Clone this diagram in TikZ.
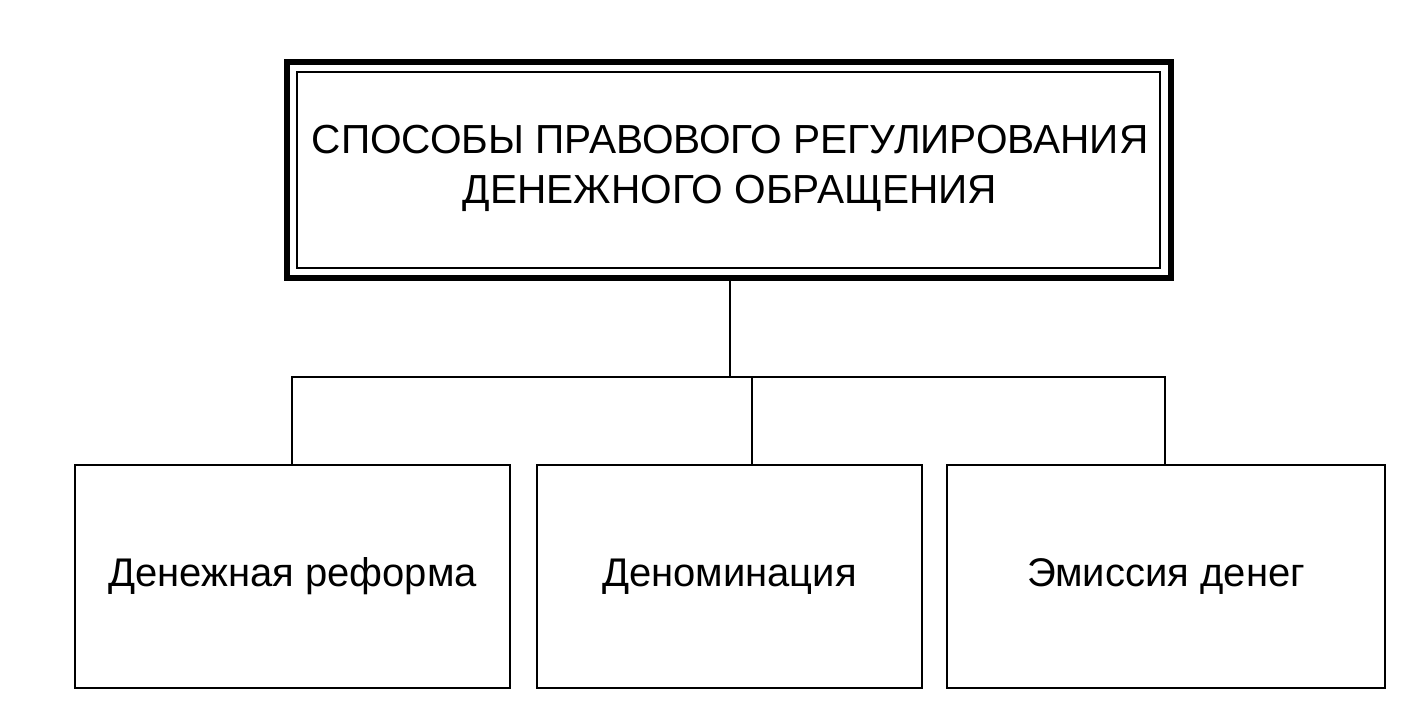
\documentclass[tikz,border=0pt]{standalone}
\usepackage{fontspec}
\setmainfont{Liberation Sans}
\begin{document}
\begin{tikzpicture}[x=0.5pt,y=-0.5pt,
  leaf/.style={draw,line width=1.2pt,minimum width=217.5pt,minimum height=111.5pt,font=\fontsize{20}{24}\selectfont,inner sep=0pt},
  conn/.style={line width=1pt}]
\useasboundingbox (0,0) rectangle (1413,725);
\node[draw,line width=3pt,minimum width=442pt,minimum height=108pt,inner sep=0pt] (top) at (728.5,170) {};
\node[draw,line width=1pt,minimum width=431.5pt,minimum height=98pt,inner sep=0pt] (topin) at (728.5,170) {};
\node[align=center,font=\fontsize{20.3}{25}\selectfont] (toptext) at (730,168) {СПОСОБЫ ПРАВОВОГО РЕГУЛИРОВАНИЯ\\ДЕНЕЖНОГО ОБРАЩЕНИЯ};
\node[leaf] (a) at (292.5,576.5) {Денежная реформа};
\node[leaf,minimum width=192.5pt] (b) at (729.5,576.5) {Деноминация};
\node[leaf,minimum width=219pt] (c) at (1166,576.5) {Эмиссия денег};
\coordinate (j) at (730,377);
\draw[conn] (top.south -| j) -- (j);
\draw[conn] (a.north -| 292,0) |- (1165,377) -- (c.north -| 1165,0);
\draw[conn] (752,377) -- (b.north -| 752,0);
\end{tikzpicture}
\end{document}
